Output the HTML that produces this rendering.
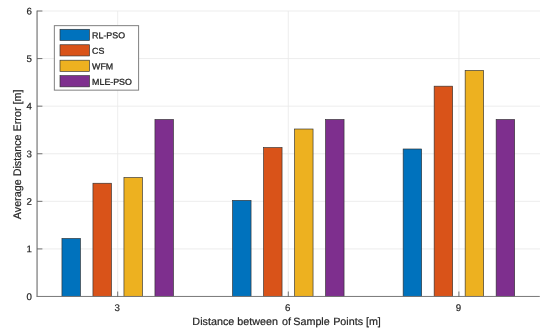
<!DOCTYPE html><html><head><meta charset="utf-8"><title>chart</title><style>html,body{margin:0;padding:0;background:#fff}svg{display:block}text{text-rendering:geometricPrecision;font-family:"Liberation Sans",Arial,sans-serif;fill:#262626}</style></head><body>
<svg width="550" height="335" viewBox="0 0 550 335">
<rect width="550" height="335" fill="#fff"/>
<line x1="37.2" x2="540.0" y1="248.92" y2="248.92" stroke="#e8e8e8" stroke-width="0.8"/>
<line x1="37.2" x2="540.0" y1="201.33" y2="201.33" stroke="#e8e8e8" stroke-width="0.8"/>
<line x1="37.2" x2="540.0" y1="153.75" y2="153.75" stroke="#e8e8e8" stroke-width="0.8"/>
<line x1="37.2" x2="540.0" y1="106.17" y2="106.17" stroke="#e8e8e8" stroke-width="0.8"/>
<line x1="37.2" x2="540.0" y1="58.58" y2="58.58" stroke="#e8e8e8" stroke-width="0.8"/>
<line x1="37.2" x2="540.0" y1="11.00" y2="11.00" stroke="#e8e8e8" stroke-width="0.8"/>
<line x1="117.7" x2="117.7" y1="11.0" y2="296.5" stroke="#e8e8e8" stroke-width="0.8"/>
<line x1="288.3" x2="288.3" y1="11.0" y2="296.5" stroke="#e8e8e8" stroke-width="0.8"/>
<line x1="458.9" x2="458.9" y1="11.0" y2="296.5" stroke="#e8e8e8" stroke-width="0.8"/>
<rect x="61.95" y="238.45" width="18.5" height="58.05" fill="#0072BD" stroke="#303030" stroke-width="0.65"/>
<rect x="92.95" y="183.25" width="18.5" height="113.25" fill="#D95319" stroke="#303030" stroke-width="0.65"/>
<rect x="123.95" y="177.54" width="18.5" height="118.96" fill="#EDB120" stroke="#303030" stroke-width="0.65"/>
<rect x="154.95" y="119.49" width="18.5" height="177.01" fill="#7E2F8E" stroke="#303030" stroke-width="0.65"/>
<rect x="232.55" y="200.38" width="18.5" height="96.12" fill="#0072BD" stroke="#303030" stroke-width="0.65"/>
<rect x="263.55" y="147.56" width="18.5" height="148.94" fill="#D95319" stroke="#303030" stroke-width="0.65"/>
<rect x="294.55" y="129.01" width="18.5" height="167.49" fill="#EDB120" stroke="#303030" stroke-width="0.65"/>
<rect x="325.55" y="119.49" width="18.5" height="177.01" fill="#7E2F8E" stroke="#303030" stroke-width="0.65"/>
<rect x="403.15" y="148.99" width="18.5" height="147.51" fill="#0072BD" stroke="#303030" stroke-width="0.65"/>
<rect x="434.15" y="86.18" width="18.5" height="210.32" fill="#D95319" stroke="#303030" stroke-width="0.65"/>
<rect x="465.15" y="70.48" width="18.5" height="226.02" fill="#EDB120" stroke="#303030" stroke-width="0.65"/>
<rect x="496.15" y="119.49" width="18.5" height="177.01" fill="#7E2F8E" stroke="#303030" stroke-width="0.65"/>
<line x1="37.05" x2="37.05" y1="10.6" y2="296.95" stroke="#4a4a4a" stroke-width="0.9"/>
<line x1="36.800000000000004" x2="539.8" y1="296.45" y2="296.45" stroke="#787878" stroke-width="1.0"/>
<text transform="translate(32.00,299.90) scale(0.97,0.96) skewY(0.05)" font-size="10" text-anchor="end" stroke="#262626" stroke-width="0.22">0</text>
<line x1="37.2" x2="42.400000000000006" y1="248.92" y2="248.92" stroke="#505050" stroke-width="0.8"/>
<text transform="translate(32.00,252.32) scale(0.97,0.96) skewY(0.05)" font-size="10" text-anchor="end" stroke="#262626" stroke-width="0.22">1</text>
<line x1="37.2" x2="42.400000000000006" y1="201.33" y2="201.33" stroke="#505050" stroke-width="0.8"/>
<text transform="translate(32.00,204.73) scale(0.97,0.96) skewY(0.05)" font-size="10" text-anchor="end" stroke="#262626" stroke-width="0.22">2</text>
<line x1="37.2" x2="42.400000000000006" y1="153.75" y2="153.75" stroke="#505050" stroke-width="0.8"/>
<text transform="translate(32.00,157.15) scale(0.97,0.96) skewY(0.05)" font-size="10" text-anchor="end" stroke="#262626" stroke-width="0.22">3</text>
<line x1="37.2" x2="42.400000000000006" y1="106.17" y2="106.17" stroke="#505050" stroke-width="0.8"/>
<text transform="translate(32.00,109.57) scale(0.97,0.96) skewY(0.05)" font-size="10" text-anchor="end" stroke="#262626" stroke-width="0.22">4</text>
<line x1="37.2" x2="42.400000000000006" y1="58.58" y2="58.58" stroke="#505050" stroke-width="0.8"/>
<text transform="translate(32.00,61.98) scale(0.97,0.96) skewY(0.05)" font-size="10" text-anchor="end" stroke="#262626" stroke-width="0.22">5</text>
<line x1="37.2" x2="42.400000000000006" y1="11.00" y2="11.00" stroke="#505050" stroke-width="0.8"/>
<text transform="translate(32.00,14.40) scale(0.97,0.96) skewY(0.05)" font-size="10" text-anchor="end" stroke="#262626" stroke-width="0.22">6</text>
<line x1="117.7" x2="117.7" y1="296.5" y2="291.5" stroke="#505050" stroke-width="0.8"/>
<text transform="translate(117.20,311.00) scale(0.97,0.96) skewY(0.05)" font-size="10" text-anchor="middle" stroke="#262626" stroke-width="0.22">3</text>
<line x1="288.3" x2="288.3" y1="296.5" y2="291.5" stroke="#505050" stroke-width="0.8"/>
<text transform="translate(287.80,311.00) scale(0.97,0.96) skewY(0.05)" font-size="10" text-anchor="middle" stroke="#262626" stroke-width="0.22">6</text>
<line x1="458.9" x2="458.9" y1="296.5" y2="291.5" stroke="#505050" stroke-width="0.8"/>
<text transform="translate(458.40,311.00) scale(0.97,0.96) skewY(0.05)" font-size="10" text-anchor="middle" stroke="#262626" stroke-width="0.22">9</text>
<text transform="translate(286.60,325.00) scale(0.979,0.96) skewY(0.05)" font-size="11" text-anchor="middle" stroke="#262626" stroke-width="0.22">Distance between <tspan dx="1.0">of</tspan> <tspan dx="-0.7">Sample</tspan> <tspan dx="0.4">Points</tspan> <tspan dx="-0.2">[m]</tspan></text>
<text transform="translate(20.70,154.40) rotate(-90) scale(0.979,1.0)" font-size="11" text-anchor="middle" stroke="#262626" stroke-width="0.2">Average Distance Error [m]</text>
<rect x="54.35" y="25.65" width="84.25" height="64.5" fill="#fff" stroke="#808080" stroke-width="1"/>
<rect x="60.0" y="29.30" width="29.5" height="11.2" fill="#0072BD" stroke="#303030" stroke-width="0.65"/>
<text transform="translate(92.10,38.35) scale(0.982,0.95) skewY(0.05)" font-size="9" text-anchor="start" stroke="#262626" stroke-width="0.3">RL-PSO</text>
<rect x="60.0" y="44.75" width="29.5" height="11.2" fill="#D95319" stroke="#303030" stroke-width="0.65"/>
<text transform="translate(92.10,53.80) scale(0.982,0.95) skewY(0.05)" font-size="9" text-anchor="start" stroke="#262626" stroke-width="0.3">CS</text>
<rect x="60.0" y="60.20" width="29.5" height="11.2" fill="#EDB120" stroke="#303030" stroke-width="0.65"/>
<text transform="translate(92.10,69.25) scale(0.982,0.95) skewY(0.05)" font-size="9" text-anchor="start" stroke="#262626" stroke-width="0.3">WFM</text>
<rect x="60.0" y="75.65" width="29.5" height="11.2" fill="#7E2F8E" stroke="#303030" stroke-width="0.65"/>
<text transform="translate(92.10,84.70) scale(0.982,0.95) skewY(0.05)" font-size="9" text-anchor="start" stroke="#262626" stroke-width="0.3">MLE-PSO</text>
</svg></body></html>
